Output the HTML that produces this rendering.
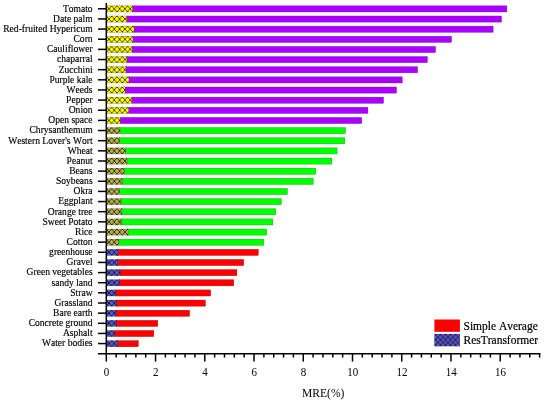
<!DOCTYPE html>
<html><head><meta charset="utf-8"><title>MRE chart</title>
<style>html,body{margin:0;padding:0;background:#fff}svg{display:block}text{font-family:"Liberation Serif",serif;fill:#000;font-kerning:none}.lb{stroke:#000;stroke-width:0.15px}.lg{stroke:#000;stroke-width:0.2px}</style></head>
<body>
<svg width="550" height="403" viewBox="0 0 550 403">
<rect width="550" height="403" fill="#fff"/>
<defs>
<pattern id="p0" patternUnits="userSpaceOnUse" x="106.35" y="5.85" width="5.3" height="5.9"><path d="M0 0L5.3 5.9M5.3 0L0 5.9" stroke="#000" stroke-width="0.7" fill="none"/></pattern>
<pattern id="p1" patternUnits="userSpaceOnUse" x="106.35" y="16.00" width="5.3" height="5.9"><path d="M0 0L5.3 5.9M5.3 0L0 5.9" stroke="#000" stroke-width="0.7" fill="none"/></pattern>
<pattern id="p2" patternUnits="userSpaceOnUse" x="106.35" y="26.14" width="5.3" height="5.9"><path d="M0 0L5.3 5.9M5.3 0L0 5.9" stroke="#000" stroke-width="0.7" fill="none"/></pattern>
<pattern id="p3" patternUnits="userSpaceOnUse" x="106.35" y="36.28" width="5.3" height="5.9"><path d="M0 0L5.3 5.9M5.3 0L0 5.9" stroke="#000" stroke-width="0.7" fill="none"/></pattern>
<pattern id="p4" patternUnits="userSpaceOnUse" x="106.35" y="46.43" width="5.3" height="5.9"><path d="M0 0L5.3 5.9M5.3 0L0 5.9" stroke="#000" stroke-width="0.7" fill="none"/></pattern>
<pattern id="p5" patternUnits="userSpaceOnUse" x="106.35" y="56.57" width="5.3" height="5.9"><path d="M0 0L5.3 5.9M5.3 0L0 5.9" stroke="#000" stroke-width="0.7" fill="none"/></pattern>
<pattern id="p6" patternUnits="userSpaceOnUse" x="106.35" y="66.72" width="5.3" height="5.9"><path d="M0 0L5.3 5.9M5.3 0L0 5.9" stroke="#000" stroke-width="0.7" fill="none"/></pattern>
<pattern id="p7" patternUnits="userSpaceOnUse" x="106.35" y="76.86" width="5.3" height="5.9"><path d="M0 0L5.3 5.9M5.3 0L0 5.9" stroke="#000" stroke-width="0.7" fill="none"/></pattern>
<pattern id="p8" patternUnits="userSpaceOnUse" x="106.35" y="87.01" width="5.3" height="5.9"><path d="M0 0L5.3 5.9M5.3 0L0 5.9" stroke="#000" stroke-width="0.7" fill="none"/></pattern>
<pattern id="p9" patternUnits="userSpaceOnUse" x="106.35" y="97.15" width="5.3" height="5.9"><path d="M0 0L5.3 5.9M5.3 0L0 5.9" stroke="#000" stroke-width="0.7" fill="none"/></pattern>
<pattern id="p10" patternUnits="userSpaceOnUse" x="106.35" y="107.30" width="5.3" height="5.9"><path d="M0 0L5.3 5.9M5.3 0L0 5.9" stroke="#000" stroke-width="0.7" fill="none"/></pattern>
<pattern id="p11" patternUnits="userSpaceOnUse" x="106.35" y="117.44" width="5.3" height="5.9"><path d="M0 0L5.3 5.9M5.3 0L0 5.9" stroke="#000" stroke-width="0.7" fill="none"/></pattern>
<pattern id="p12" patternUnits="userSpaceOnUse" x="106.35" y="127.59" width="5.3" height="5.9"><path d="M0 0L5.3 5.9M5.3 0L0 5.9" stroke="#000" stroke-width="0.7" fill="none"/></pattern>
<pattern id="p13" patternUnits="userSpaceOnUse" x="106.35" y="137.74" width="5.3" height="5.9"><path d="M0 0L5.3 5.9M5.3 0L0 5.9" stroke="#000" stroke-width="0.7" fill="none"/></pattern>
<pattern id="p14" patternUnits="userSpaceOnUse" x="106.35" y="147.88" width="5.3" height="5.9"><path d="M0 0L5.3 5.9M5.3 0L0 5.9" stroke="#000" stroke-width="0.7" fill="none"/></pattern>
<pattern id="p15" patternUnits="userSpaceOnUse" x="106.35" y="158.03" width="5.3" height="5.9"><path d="M0 0L5.3 5.9M5.3 0L0 5.9" stroke="#000" stroke-width="0.7" fill="none"/></pattern>
<pattern id="p16" patternUnits="userSpaceOnUse" x="106.35" y="168.17" width="5.3" height="5.9"><path d="M0 0L5.3 5.9M5.3 0L0 5.9" stroke="#000" stroke-width="0.7" fill="none"/></pattern>
<pattern id="p17" patternUnits="userSpaceOnUse" x="106.35" y="178.32" width="5.3" height="5.9"><path d="M0 0L5.3 5.9M5.3 0L0 5.9" stroke="#000" stroke-width="0.7" fill="none"/></pattern>
<pattern id="p18" patternUnits="userSpaceOnUse" x="106.35" y="188.46" width="5.3" height="5.9"><path d="M0 0L5.3 5.9M5.3 0L0 5.9" stroke="#000" stroke-width="0.7" fill="none"/></pattern>
<pattern id="p19" patternUnits="userSpaceOnUse" x="106.35" y="198.61" width="5.3" height="5.9"><path d="M0 0L5.3 5.9M5.3 0L0 5.9" stroke="#000" stroke-width="0.7" fill="none"/></pattern>
<pattern id="p20" patternUnits="userSpaceOnUse" x="106.35" y="208.75" width="5.3" height="5.9"><path d="M0 0L5.3 5.9M5.3 0L0 5.9" stroke="#000" stroke-width="0.7" fill="none"/></pattern>
<pattern id="p21" patternUnits="userSpaceOnUse" x="106.35" y="218.90" width="5.3" height="5.9"><path d="M0 0L5.3 5.9M5.3 0L0 5.9" stroke="#000" stroke-width="0.7" fill="none"/></pattern>
<pattern id="p22" patternUnits="userSpaceOnUse" x="106.35" y="229.04" width="5.3" height="5.9"><path d="M0 0L5.3 5.9M5.3 0L0 5.9" stroke="#000" stroke-width="0.7" fill="none"/></pattern>
<pattern id="p23" patternUnits="userSpaceOnUse" x="106.35" y="239.19" width="5.3" height="5.9"><path d="M0 0L5.3 5.9M5.3 0L0 5.9" stroke="#000" stroke-width="0.7" fill="none"/></pattern>
<pattern id="p24" patternUnits="userSpaceOnUse" x="106.35" y="249.33" width="5.3" height="5.9"><path d="M0 0L5.3 5.9M5.3 0L0 5.9" stroke="#000" stroke-width="0.7" fill="none"/></pattern>
<pattern id="p25" patternUnits="userSpaceOnUse" x="106.35" y="259.48" width="5.3" height="5.9"><path d="M0 0L5.3 5.9M5.3 0L0 5.9" stroke="#000" stroke-width="0.7" fill="none"/></pattern>
<pattern id="p26" patternUnits="userSpaceOnUse" x="106.35" y="269.62" width="5.3" height="5.9"><path d="M0 0L5.3 5.9M5.3 0L0 5.9" stroke="#000" stroke-width="0.7" fill="none"/></pattern>
<pattern id="p27" patternUnits="userSpaceOnUse" x="106.35" y="279.76" width="5.3" height="5.9"><path d="M0 0L5.3 5.9M5.3 0L0 5.9" stroke="#000" stroke-width="0.7" fill="none"/></pattern>
<pattern id="p28" patternUnits="userSpaceOnUse" x="106.35" y="289.91" width="5.3" height="5.9"><path d="M0 0L5.3 5.9M5.3 0L0 5.9" stroke="#000" stroke-width="0.7" fill="none"/></pattern>
<pattern id="p29" patternUnits="userSpaceOnUse" x="106.35" y="300.06" width="5.3" height="5.9"><path d="M0 0L5.3 5.9M5.3 0L0 5.9" stroke="#000" stroke-width="0.7" fill="none"/></pattern>
<pattern id="p30" patternUnits="userSpaceOnUse" x="106.35" y="310.20" width="5.3" height="5.9"><path d="M0 0L5.3 5.9M5.3 0L0 5.9" stroke="#000" stroke-width="0.7" fill="none"/></pattern>
<pattern id="p31" patternUnits="userSpaceOnUse" x="106.35" y="320.35" width="5.3" height="5.9"><path d="M0 0L5.3 5.9M5.3 0L0 5.9" stroke="#000" stroke-width="0.7" fill="none"/></pattern>
<pattern id="p32" patternUnits="userSpaceOnUse" x="106.35" y="330.49" width="5.3" height="5.9"><path d="M0 0L5.3 5.9M5.3 0L0 5.9" stroke="#000" stroke-width="0.7" fill="none"/></pattern>
<pattern id="p33" patternUnits="userSpaceOnUse" x="106.35" y="340.63" width="5.3" height="5.9"><path d="M0 0L5.3 5.9M5.3 0L0 5.9" stroke="#000" stroke-width="0.7" fill="none"/></pattern>
<pattern id="pl" patternUnits="userSpaceOnUse" x="435.50" y="334.43" width="5.0" height="5.35"><path d="M0 0L5.0 5.35M5.0 0L0 5.35" stroke="#000" stroke-width="0.65" fill="none"/></pattern>
</defs>
<rect x="132.1" y="5.85" width="374.8" height="6.1" fill="#AA00FF" stroke="#7700B8" stroke-width="0.4"/>
<rect x="106.9" y="5.85" width="25.6" height="6.1" fill="#FFFF00"/>
<rect x="106.9" y="5.85" width="25.6" height="6.1" fill="url(#p0)" stroke="rgba(0,0,0,0.5)" stroke-width="0.4"/>
<path d="M98 8.80H106.3" stroke="#000" stroke-width="1.5"/>
<text class="lb" x="92.6" y="11.70" font-size="9.55" text-anchor="end">Tomato</text>
<rect x="126.3" y="16.00" width="375.2" height="6.1" fill="#AA00FF" stroke="#7700B8" stroke-width="0.4"/>
<rect x="106.9" y="16.00" width="19.8" height="6.1" fill="#FFFF00"/>
<rect x="106.9" y="16.00" width="19.8" height="6.1" fill="url(#p1)" stroke="rgba(0,0,0,0.5)" stroke-width="0.4"/>
<path d="M98 18.95H106.3" stroke="#000" stroke-width="1.5"/>
<text class="lb" x="92.6" y="21.84" font-size="9.55" text-anchor="end">Date palm</text>
<rect x="133.7" y="26.14" width="359.4" height="6.1" fill="#AA00FF" stroke="#7700B8" stroke-width="0.4"/>
<rect x="106.9" y="26.14" width="27.2" height="6.1" fill="#FFFF00"/>
<rect x="106.9" y="26.14" width="27.2" height="6.1" fill="url(#p2)" stroke="rgba(0,0,0,0.5)" stroke-width="0.4"/>
<path d="M98 29.09H106.3" stroke="#000" stroke-width="1.5"/>
<text class="lb" x="92.6" y="31.99" font-size="9.55" text-anchor="end">Red-fruited Hypericum</text>
<rect x="132.5" y="36.29" width="319.0" height="6.1" fill="#AA00FF" stroke="#7700B8" stroke-width="0.4"/>
<rect x="106.9" y="36.29" width="26.0" height="6.1" fill="#FFFF00"/>
<rect x="106.9" y="36.29" width="26.0" height="6.1" fill="url(#p3)" stroke="rgba(0,0,0,0.5)" stroke-width="0.4"/>
<path d="M98 39.23H106.3" stroke="#000" stroke-width="1.5"/>
<text class="lb" x="92.6" y="42.13" font-size="9.55" text-anchor="end">Corn</text>
<rect x="131.8" y="46.43" width="303.7" height="6.1" fill="#AA00FF" stroke="#7700B8" stroke-width="0.4"/>
<rect x="106.9" y="46.43" width="25.3" height="6.1" fill="#FFFF00"/>
<rect x="106.9" y="46.43" width="25.3" height="6.1" fill="url(#p4)" stroke="rgba(0,0,0,0.5)" stroke-width="0.4"/>
<path d="M98 49.38H106.3" stroke="#000" stroke-width="1.5"/>
<text class="lb" x="92.6" y="52.28" font-size="9.55" text-anchor="end">Cauliflower</text>
<rect x="126.6" y="56.57" width="300.8" height="6.1" fill="#AA00FF" stroke="#7700B8" stroke-width="0.4"/>
<rect x="106.9" y="56.57" width="20.1" height="6.1" fill="#FFFF00"/>
<rect x="106.9" y="56.57" width="20.1" height="6.1" fill="url(#p5)" stroke="rgba(0,0,0,0.5)" stroke-width="0.4"/>
<path d="M98 59.52H106.3" stroke="#000" stroke-width="1.5"/>
<text class="lb" x="92.6" y="62.42" font-size="9.55" text-anchor="end">chaparral</text>
<rect x="125.5" y="66.72" width="292.0" height="6.1" fill="#AA00FF" stroke="#7700B8" stroke-width="0.4"/>
<rect x="106.9" y="66.72" width="19.0" height="6.1" fill="#FFFF00"/>
<rect x="106.9" y="66.72" width="19.0" height="6.1" fill="url(#p6)" stroke="rgba(0,0,0,0.5)" stroke-width="0.4"/>
<path d="M98 69.67H106.3" stroke="#000" stroke-width="1.5"/>
<text class="lb" x="92.6" y="72.57" font-size="9.55" text-anchor="end">Zucchini</text>
<rect x="128.6" y="76.86" width="273.6" height="6.1" fill="#AA00FF" stroke="#7700B8" stroke-width="0.4"/>
<rect x="106.9" y="76.86" width="22.1" height="6.1" fill="#FFFF00"/>
<rect x="106.9" y="76.86" width="22.1" height="6.1" fill="url(#p7)" stroke="rgba(0,0,0,0.5)" stroke-width="0.4"/>
<path d="M98 79.81H106.3" stroke="#000" stroke-width="1.5"/>
<text class="lb" x="92.6" y="82.72" font-size="9.55" text-anchor="end">Purple kale</text>
<rect x="124.7" y="87.01" width="271.8" height="6.1" fill="#AA00FF" stroke="#7700B8" stroke-width="0.4"/>
<rect x="106.9" y="87.01" width="18.2" height="6.1" fill="#FFFF00"/>
<rect x="106.9" y="87.01" width="18.2" height="6.1" fill="url(#p8)" stroke="rgba(0,0,0,0.5)" stroke-width="0.4"/>
<path d="M98 89.96H106.3" stroke="#000" stroke-width="1.5"/>
<text class="lb" x="92.6" y="92.86" font-size="9.55" text-anchor="end">Weeds</text>
<rect x="131.3" y="97.15" width="252.2" height="6.1" fill="#AA00FF" stroke="#7700B8" stroke-width="0.4"/>
<rect x="106.9" y="97.15" width="24.8" height="6.1" fill="#FFFF00"/>
<rect x="106.9" y="97.15" width="24.8" height="6.1" fill="url(#p9)" stroke="rgba(0,0,0,0.5)" stroke-width="0.4"/>
<path d="M98 100.10H106.3" stroke="#000" stroke-width="1.5"/>
<text class="lb" x="92.6" y="103.00" font-size="9.55" text-anchor="end">Pepper</text>
<rect x="128.3" y="107.30" width="239.6" height="6.1" fill="#AA00FF" stroke="#7700B8" stroke-width="0.4"/>
<rect x="106.9" y="107.30" width="21.8" height="6.1" fill="#FFFF00"/>
<rect x="106.9" y="107.30" width="21.8" height="6.1" fill="url(#p10)" stroke="rgba(0,0,0,0.5)" stroke-width="0.4"/>
<path d="M98 110.25H106.3" stroke="#000" stroke-width="1.5"/>
<text class="lb" x="92.6" y="113.15" font-size="9.55" text-anchor="end">Onion</text>
<rect x="119.9" y="117.44" width="241.8" height="6.1" fill="#AA00FF" stroke="#7700B8" stroke-width="0.4"/>
<rect x="106.9" y="117.44" width="13.4" height="6.1" fill="#FFFF00"/>
<rect x="106.9" y="117.44" width="13.4" height="6.1" fill="url(#p11)" stroke="rgba(0,0,0,0.5)" stroke-width="0.4"/>
<path d="M98 120.39H106.3" stroke="#000" stroke-width="1.5"/>
<text class="lb" x="92.6" y="123.30" font-size="9.55" text-anchor="end">Open space</text>
<rect x="119.6" y="127.59" width="225.9" height="6.1" fill="#00FF00" stroke="#00A800" stroke-width="0.4"/>
<rect x="106.9" y="127.59" width="13.1" height="6.1" fill="#B8B24A"/>
<rect x="106.9" y="127.59" width="13.1" height="6.1" fill="url(#p12)" stroke="rgba(0,0,0,0.5)" stroke-width="0.4"/>
<path d="M98 130.54H106.3" stroke="#000" stroke-width="1.5"/>
<text class="lb" x="92.6" y="133.44" font-size="9.55" text-anchor="end">Chrysanthemum</text>
<rect x="119.3" y="137.73" width="225.5" height="6.1" fill="#00FF00" stroke="#00A800" stroke-width="0.4"/>
<rect x="106.9" y="137.73" width="12.8" height="6.1" fill="#B8B24A"/>
<rect x="106.9" y="137.73" width="12.8" height="6.1" fill="url(#p13)" stroke="rgba(0,0,0,0.5)" stroke-width="0.4"/>
<path d="M98 140.69H106.3" stroke="#000" stroke-width="1.5"/>
<text class="lb" x="92.6" y="143.59" font-size="9.55" text-anchor="end">Western Lover's Wort</text>
<rect x="125.2" y="147.88" width="211.9" height="6.1" fill="#00FF00" stroke="#00A800" stroke-width="0.4"/>
<rect x="106.9" y="147.88" width="18.7" height="6.1" fill="#B8B24A"/>
<rect x="106.9" y="147.88" width="18.7" height="6.1" fill="url(#p14)" stroke="rgba(0,0,0,0.5)" stroke-width="0.4"/>
<path d="M98 150.83H106.3" stroke="#000" stroke-width="1.5"/>
<text class="lb" x="92.6" y="153.73" font-size="9.55" text-anchor="end">Wheat</text>
<rect x="126.6" y="158.02" width="205.3" height="6.1" fill="#00FF00" stroke="#00A800" stroke-width="0.4"/>
<rect x="106.9" y="158.02" width="20.1" height="6.1" fill="#B8B24A"/>
<rect x="106.9" y="158.02" width="20.1" height="6.1" fill="url(#p15)" stroke="rgba(0,0,0,0.5)" stroke-width="0.4"/>
<path d="M98 160.97H106.3" stroke="#000" stroke-width="1.5"/>
<text class="lb" x="92.6" y="163.88" font-size="9.55" text-anchor="end">Peanut</text>
<rect x="123.9" y="168.17" width="191.9" height="6.1" fill="#00FF00" stroke="#00A800" stroke-width="0.4"/>
<rect x="106.9" y="168.17" width="17.4" height="6.1" fill="#B8B24A"/>
<rect x="106.9" y="168.17" width="17.4" height="6.1" fill="url(#p16)" stroke="rgba(0,0,0,0.5)" stroke-width="0.4"/>
<path d="M98 171.12H106.3" stroke="#000" stroke-width="1.5"/>
<text class="lb" x="92.6" y="174.02" font-size="9.55" text-anchor="end">Beans</text>
<rect x="121.8" y="178.31" width="191.4" height="6.1" fill="#00FF00" stroke="#00A800" stroke-width="0.4"/>
<rect x="106.9" y="178.31" width="15.3" height="6.1" fill="#B8B24A"/>
<rect x="106.9" y="178.31" width="15.3" height="6.1" fill="url(#p17)" stroke="rgba(0,0,0,0.5)" stroke-width="0.4"/>
<path d="M98 181.27H106.3" stroke="#000" stroke-width="1.5"/>
<text class="lb" x="92.6" y="184.17" font-size="9.55" text-anchor="end">Soybeans</text>
<rect x="119.3" y="188.46" width="168.1" height="6.1" fill="#00FF00" stroke="#00A800" stroke-width="0.4"/>
<rect x="106.9" y="188.46" width="12.8" height="6.1" fill="#B8B24A"/>
<rect x="106.9" y="188.46" width="12.8" height="6.1" fill="url(#p18)" stroke="rgba(0,0,0,0.5)" stroke-width="0.4"/>
<path d="M98 191.41H106.3" stroke="#000" stroke-width="1.5"/>
<text class="lb" x="92.6" y="194.31" font-size="9.55" text-anchor="end">Okra</text>
<rect x="120.7" y="198.60" width="160.6" height="6.1" fill="#00FF00" stroke="#00A800" stroke-width="0.4"/>
<rect x="106.9" y="198.60" width="14.2" height="6.1" fill="#B8B24A"/>
<rect x="106.9" y="198.60" width="14.2" height="6.1" fill="url(#p19)" stroke="rgba(0,0,0,0.5)" stroke-width="0.4"/>
<path d="M98 201.56H106.3" stroke="#000" stroke-width="1.5"/>
<text class="lb" x="92.6" y="204.46" font-size="9.55" text-anchor="end">Eggplant</text>
<rect x="121.5" y="208.75" width="154.3" height="6.1" fill="#00FF00" stroke="#00A800" stroke-width="0.4"/>
<rect x="106.9" y="208.75" width="15.0" height="6.1" fill="#B8B24A"/>
<rect x="106.9" y="208.75" width="15.0" height="6.1" fill="url(#p20)" stroke="rgba(0,0,0,0.5)" stroke-width="0.4"/>
<path d="M98 211.70H106.3" stroke="#000" stroke-width="1.5"/>
<text class="lb" x="92.6" y="214.60" font-size="9.55" text-anchor="end">Orange tree</text>
<rect x="121.0" y="218.89" width="151.9" height="6.1" fill="#00FF00" stroke="#00A800" stroke-width="0.4"/>
<rect x="106.9" y="218.89" width="14.5" height="6.1" fill="#B8B24A"/>
<rect x="106.9" y="218.89" width="14.5" height="6.1" fill="url(#p21)" stroke="rgba(0,0,0,0.5)" stroke-width="0.4"/>
<path d="M98 221.84H106.3" stroke="#000" stroke-width="1.5"/>
<text class="lb" x="92.6" y="224.75" font-size="9.55" text-anchor="end">Sweet Potato</text>
<rect x="127.7" y="229.04" width="139.1" height="6.1" fill="#00FF00" stroke="#00A800" stroke-width="0.4"/>
<rect x="106.9" y="229.04" width="21.2" height="6.1" fill="#B8B24A"/>
<rect x="106.9" y="229.04" width="21.2" height="6.1" fill="url(#p22)" stroke="rgba(0,0,0,0.5)" stroke-width="0.4"/>
<path d="M98 231.99H106.3" stroke="#000" stroke-width="1.5"/>
<text class="lb" x="92.6" y="234.89" font-size="9.55" text-anchor="end">Rice</text>
<rect x="118.6" y="239.18" width="145.3" height="6.1" fill="#00FF00" stroke="#00A800" stroke-width="0.4"/>
<rect x="106.9" y="239.18" width="12.1" height="6.1" fill="#B8B24A"/>
<rect x="106.9" y="239.18" width="12.1" height="6.1" fill="url(#p23)" stroke="rgba(0,0,0,0.5)" stroke-width="0.4"/>
<path d="M98 242.13H106.3" stroke="#000" stroke-width="1.5"/>
<text class="lb" x="92.6" y="245.03" font-size="9.55" text-anchor="end">Cotton</text>
<rect x="117.5" y="249.33" width="140.8" height="6.1" fill="#FF0000" stroke="#B00000" stroke-width="0.4"/>
<rect x="106.9" y="249.33" width="11.0" height="6.1" fill="#5A56CC"/>
<rect x="106.9" y="249.33" width="11.0" height="6.1" fill="url(#p24)" stroke="rgba(0,0,0,0.5)" stroke-width="0.4"/>
<path d="M98 252.28H106.3" stroke="#000" stroke-width="1.5"/>
<text class="lb" x="92.6" y="255.18" font-size="9.55" text-anchor="end">greenhouse</text>
<rect x="117.2" y="259.48" width="126.5" height="6.1" fill="#FF0000" stroke="#B00000" stroke-width="0.4"/>
<rect x="106.9" y="259.48" width="10.7" height="6.1" fill="#5A56CC"/>
<rect x="106.9" y="259.48" width="10.7" height="6.1" fill="url(#p25)" stroke="rgba(0,0,0,0.5)" stroke-width="0.4"/>
<path d="M98 262.43H106.3" stroke="#000" stroke-width="1.5"/>
<text class="lb" x="92.6" y="265.32" font-size="9.55" text-anchor="end">Gravel</text>
<rect x="119.7" y="269.62" width="117.2" height="6.1" fill="#FF0000" stroke="#B00000" stroke-width="0.4"/>
<rect x="106.9" y="269.62" width="13.2" height="6.1" fill="#5A56CC"/>
<rect x="106.9" y="269.62" width="13.2" height="6.1" fill="url(#p26)" stroke="rgba(0,0,0,0.5)" stroke-width="0.4"/>
<path d="M98 272.57H106.3" stroke="#000" stroke-width="1.5"/>
<text class="lb" x="92.6" y="275.47" font-size="9.55" text-anchor="end">Green vegetables</text>
<rect x="119.1" y="279.76" width="114.7" height="6.1" fill="#FF0000" stroke="#B00000" stroke-width="0.4"/>
<rect x="106.9" y="279.76" width="12.6" height="6.1" fill="#5A56CC"/>
<rect x="106.9" y="279.76" width="12.6" height="6.1" fill="url(#p27)" stroke="rgba(0,0,0,0.5)" stroke-width="0.4"/>
<path d="M98 282.71H106.3" stroke="#000" stroke-width="1.5"/>
<text class="lb" x="92.6" y="285.61" font-size="9.55" text-anchor="end">sandy land</text>
<rect x="115.4" y="289.91" width="95.3" height="6.1" fill="#FF0000" stroke="#B00000" stroke-width="0.4"/>
<rect x="106.9" y="289.91" width="8.9" height="6.1" fill="#5A56CC"/>
<rect x="106.9" y="289.91" width="8.9" height="6.1" fill="url(#p28)" stroke="rgba(0,0,0,0.5)" stroke-width="0.4"/>
<path d="M98 292.86H106.3" stroke="#000" stroke-width="1.5"/>
<text class="lb" x="92.6" y="295.76" font-size="9.55" text-anchor="end">Straw</text>
<rect x="116.0" y="300.06" width="89.4" height="6.1" fill="#FF0000" stroke="#B00000" stroke-width="0.4"/>
<rect x="106.9" y="300.06" width="9.5" height="6.1" fill="#5A56CC"/>
<rect x="106.9" y="300.06" width="9.5" height="6.1" fill="url(#p29)" stroke="rgba(0,0,0,0.5)" stroke-width="0.4"/>
<path d="M98 303.00H106.3" stroke="#000" stroke-width="1.5"/>
<text class="lb" x="92.6" y="305.90" font-size="9.55" text-anchor="end">Grassland</text>
<rect x="115.7" y="310.20" width="73.9" height="6.1" fill="#FF0000" stroke="#B00000" stroke-width="0.4"/>
<rect x="106.9" y="310.20" width="9.2" height="6.1" fill="#5A56CC"/>
<rect x="106.9" y="310.20" width="9.2" height="6.1" fill="url(#p30)" stroke="rgba(0,0,0,0.5)" stroke-width="0.4"/>
<path d="M98 313.15H106.3" stroke="#000" stroke-width="1.5"/>
<text class="lb" x="92.6" y="316.05" font-size="9.55" text-anchor="end">Bare earth</text>
<rect x="116.0" y="320.35" width="41.8" height="6.1" fill="#FF0000" stroke="#B00000" stroke-width="0.4"/>
<rect x="106.9" y="320.35" width="9.5" height="6.1" fill="#5A56CC"/>
<rect x="106.9" y="320.35" width="9.5" height="6.1" fill="url(#p31)" stroke="rgba(0,0,0,0.5)" stroke-width="0.4"/>
<path d="M98 323.30H106.3" stroke="#000" stroke-width="1.5"/>
<text class="lb" x="92.6" y="326.19" font-size="9.55" text-anchor="end">Concrete ground</text>
<rect x="114.4" y="330.49" width="39.4" height="6.1" fill="#FF0000" stroke="#B00000" stroke-width="0.4"/>
<rect x="106.9" y="330.49" width="7.9" height="6.1" fill="#5A56CC"/>
<rect x="106.9" y="330.49" width="7.9" height="6.1" fill="url(#p32)" stroke="rgba(0,0,0,0.5)" stroke-width="0.4"/>
<path d="M98 333.44H106.3" stroke="#000" stroke-width="1.5"/>
<text class="lb" x="92.6" y="336.34" font-size="9.55" text-anchor="end">Asphalt</text>
<rect x="117.2" y="340.63" width="21.1" height="6.1" fill="#FF0000" stroke="#B00000" stroke-width="0.4"/>
<rect x="106.9" y="340.63" width="10.7" height="6.1" fill="#5A56CC"/>
<rect x="106.9" y="340.63" width="10.7" height="6.1" fill="url(#p33)" stroke="rgba(0,0,0,0.5)" stroke-width="0.4"/>
<path d="M98 343.58H106.3" stroke="#000" stroke-width="1.5"/>
<text class="lb" x="92.6" y="346.48" font-size="9.55" text-anchor="end">Water bodies</text>
<path d="M106.3 3V353.8" stroke="#000" stroke-width="1.5" fill="none"/>
<path d="M98 353.8H540.4" stroke="#000" stroke-width="1.5" fill="none"/>
<path d="M106.30 353.8V361.6" stroke="#000" stroke-width="1.5"/>
<text transform="translate(106.60 376.4) scale(1 1.12)" font-size="11" text-anchor="middle">0</text>
<path d="M116.15 353.8V357.6" stroke="#000" stroke-width="1.5"/>
<path d="M126.00 353.8V357.6" stroke="#000" stroke-width="1.5"/>
<path d="M135.84 353.8V357.6" stroke="#000" stroke-width="1.5"/>
<path d="M145.69 353.8V357.6" stroke="#000" stroke-width="1.5"/>
<path d="M155.54 353.8V361.6" stroke="#000" stroke-width="1.5"/>
<text transform="translate(155.84 376.4) scale(1 1.12)" font-size="11" text-anchor="middle">2</text>
<path d="M165.39 353.8V357.6" stroke="#000" stroke-width="1.5"/>
<path d="M175.24 353.8V357.6" stroke="#000" stroke-width="1.5"/>
<path d="M185.08 353.8V357.6" stroke="#000" stroke-width="1.5"/>
<path d="M194.93 353.8V357.6" stroke="#000" stroke-width="1.5"/>
<path d="M204.78 353.8V361.6" stroke="#000" stroke-width="1.5"/>
<text transform="translate(205.08 376.4) scale(1 1.12)" font-size="11" text-anchor="middle">4</text>
<path d="M214.63 353.8V357.6" stroke="#000" stroke-width="1.5"/>
<path d="M224.48 353.8V357.6" stroke="#000" stroke-width="1.5"/>
<path d="M234.32 353.8V357.6" stroke="#000" stroke-width="1.5"/>
<path d="M244.17 353.8V357.6" stroke="#000" stroke-width="1.5"/>
<path d="M254.02 353.8V361.6" stroke="#000" stroke-width="1.5"/>
<text transform="translate(254.32 376.4) scale(1 1.12)" font-size="11" text-anchor="middle">6</text>
<path d="M263.87 353.8V357.6" stroke="#000" stroke-width="1.5"/>
<path d="M273.72 353.8V357.6" stroke="#000" stroke-width="1.5"/>
<path d="M283.56 353.8V357.6" stroke="#000" stroke-width="1.5"/>
<path d="M293.41 353.8V357.6" stroke="#000" stroke-width="1.5"/>
<path d="M303.26 353.8V361.6" stroke="#000" stroke-width="1.5"/>
<text transform="translate(303.56 376.4) scale(1 1.12)" font-size="11" text-anchor="middle">8</text>
<path d="M313.11 353.8V357.6" stroke="#000" stroke-width="1.5"/>
<path d="M322.96 353.8V357.6" stroke="#000" stroke-width="1.5"/>
<path d="M332.80 353.8V357.6" stroke="#000" stroke-width="1.5"/>
<path d="M342.65 353.8V357.6" stroke="#000" stroke-width="1.5"/>
<path d="M352.50 353.8V361.6" stroke="#000" stroke-width="1.5"/>
<text transform="translate(352.80 376.4) scale(1 1.12)" font-size="11" text-anchor="middle">10</text>
<path d="M362.35 353.8V357.6" stroke="#000" stroke-width="1.5"/>
<path d="M372.20 353.8V357.6" stroke="#000" stroke-width="1.5"/>
<path d="M382.04 353.8V357.6" stroke="#000" stroke-width="1.5"/>
<path d="M391.89 353.8V357.6" stroke="#000" stroke-width="1.5"/>
<path d="M401.74 353.8V361.6" stroke="#000" stroke-width="1.5"/>
<text transform="translate(402.04 376.4) scale(1 1.12)" font-size="11" text-anchor="middle">12</text>
<path d="M411.59 353.8V357.6" stroke="#000" stroke-width="1.5"/>
<path d="M421.44 353.8V357.6" stroke="#000" stroke-width="1.5"/>
<path d="M431.28 353.8V357.6" stroke="#000" stroke-width="1.5"/>
<path d="M441.13 353.8V357.6" stroke="#000" stroke-width="1.5"/>
<path d="M450.98 353.8V361.6" stroke="#000" stroke-width="1.5"/>
<text transform="translate(451.28 376.4) scale(1 1.12)" font-size="11" text-anchor="middle">14</text>
<path d="M460.83 353.8V357.6" stroke="#000" stroke-width="1.5"/>
<path d="M470.68 353.8V357.6" stroke="#000" stroke-width="1.5"/>
<path d="M480.52 353.8V357.6" stroke="#000" stroke-width="1.5"/>
<path d="M490.37 353.8V357.6" stroke="#000" stroke-width="1.5"/>
<path d="M500.22 353.8V361.6" stroke="#000" stroke-width="1.5"/>
<text transform="translate(500.52 376.4) scale(1 1.12)" font-size="11" text-anchor="middle">16</text>
<path d="M510.07 353.8V357.6" stroke="#000" stroke-width="1.5"/>
<path d="M519.92 353.8V357.6" stroke="#000" stroke-width="1.5"/>
<path d="M529.76 353.8V357.6" stroke="#000" stroke-width="1.5"/>
<path d="M539.61 353.8V357.6" stroke="#000" stroke-width="1.5"/>
<text x="323.2" y="396.8" font-size="11.6" text-anchor="middle">MRE(%)</text>
<rect x="434.4" y="319.5" width="25.5" height="12.3" fill="#FF0000"/>
<rect x="434.4" y="333.9" width="25.5" height="12.4" fill="#5A56CC"/>
<rect x="434.4" y="333.9" width="25.5" height="12.4" fill="url(#pl)"/>
<text class="lg" transform="translate(463.5 329.7) scale(1 1.11)" font-size="11.5">Simple Average</text>
<text class="lg" transform="translate(463.5 344.4) scale(1 1.11)" font-size="11.5">ResTransformer</text>
</svg>
</body></html>
